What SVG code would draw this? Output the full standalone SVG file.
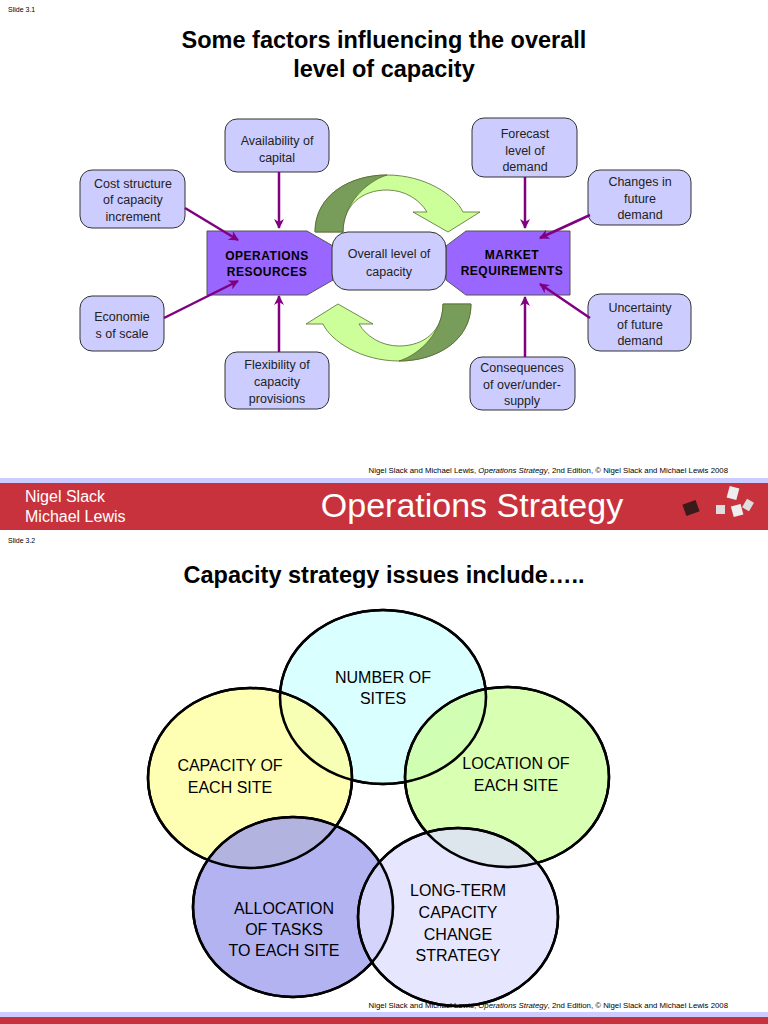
<svg xmlns="http://www.w3.org/2000/svg" width="768" height="1024" viewBox="0 0 768 1024">
<style>
text{font-family:"Liberation Sans",Arial,sans-serif;}
.t{font-size:23.5px;font-weight:bold;text-anchor:middle;fill:#000}
.sm{font-size:7px;fill:#000}
.box{fill:#ccccff;stroke:#333;stroke-width:1}
.bt{font-size:12.5px;text-anchor:middle;fill:#222}
.big{font-size:12px;font-weight:bold;text-anchor:middle;fill:#000;letter-spacing:0.5px}
.ar{stroke:#800080;stroke-width:2.5;fill:none;marker-end:url(#ah)}
.ct{font-size:16px;text-anchor:middle;fill:#000}
.c{stroke:#000;stroke-width:2.5;fill-opacity:0.75}
.foot{font-size:7.8px;text-anchor:end;fill:#000}
</style>
<defs>
<marker id="ah" viewBox="0 0 10 10" refX="9" refY="5" markerWidth="4" markerHeight="4" orient="auto"><path d="M0,0 L10,5 L0,10 L3,5 Z" fill="#800080"/></marker>
<g id="ga">
<path d="M315,232 C315,195 350,175 387,175 C425,175 455,195 463,212 L480,212 L448,232 L413,212 L427,212 C420,200 405,190 387,190 C362,190 343,205 343,232 Z" fill="#ccff99" stroke="#556b2f" stroke-width="0.8"/>
<path d="M315,232 C315,195 350,175 387,175 C365,182 343,205 343,232 Z" fill="#789d5a" stroke="#556b2f" stroke-width="0.8"/>
</g>
</defs>
<rect width="768" height="1024" fill="#fff"/>
<text x="8" y="12" class="sm">Slide 3.1</text>
<text x="384" y="48" class="t">Some factors influencing the overall</text>
<text x="384" y="77" class="t">level of capacity</text>

<g id="arrows-green">
<use href="#ga"/>
<use href="#ga" transform="rotate(180 389 262) translate(-8 -12)"/>
</g>

<g id="ops"><polygon points="207,231 307,231 333,246 333,280 307,295 207,295" fill="#9966ff" stroke="#555" stroke-width="1"/>
<text x="267" y="260" class="big">OPERATIONS</text><text x="267" y="276" class="big">RESOURCES</text></g>
<g id="market"><polygon points="466,231 570,231 570,295 466,295 446,280 446,246" fill="#9966ff" stroke="#555" stroke-width="1"/>
<text x="512" y="259" class="big">MARKET</text><text x="512" y="275" class="big">REQUIREMENTS</text></g>
<g id="center"><rect x="332" y="232" width="114" height="58" rx="16" class="box"/>
<text x="389" y="258" class="bt">Overall level of</text><text x="389" y="276" class="bt">capacity</text></g>

<g id="n1"><rect x="225" y="119" width="104" height="53" rx="12" class="box"/><text x="277" y="145" class="bt">Availability of</text><text x="277" y="162" class="bt">capital</text></g>
<g id="n2"><rect x="80" y="170" width="105" height="58" rx="12" class="box"/><text x="133" y="188" class="bt">Cost structure</text><text x="133" y="204" class="bt">of capacity</text><text x="133" y="221" class="bt">increment</text></g>
<g id="n3"><rect x="80" y="296" width="84" height="55" rx="12" class="box"/><text x="122" y="321" class="bt">Economie</text><text x="122" y="338" class="bt">s of scale</text></g>
<g id="n4"><rect x="225" y="352" width="104" height="57" rx="12" class="box"/><text x="277" y="369" class="bt">Flexibility of</text><text x="277" y="386" class="bt">capacity</text><text x="277" y="403" class="bt">provisions</text></g>
<g id="n5"><rect x="472" y="118" width="105" height="59" rx="12" class="box"/><text x="525" y="138" class="bt">Forecast</text><text x="525" y="155" class="bt">level of</text><text x="525" y="171" class="bt">demand</text></g>
<g id="n6"><rect x="588" y="170" width="103" height="55" rx="12" class="box"/><text x="640" y="186" class="bt">Changes in</text><text x="640" y="203" class="bt">future</text><text x="640" y="219" class="bt">demand</text></g>
<g id="n7"><rect x="588" y="294" width="103" height="57" rx="12" class="box"/><text x="640" y="312" class="bt">Uncertainty</text><text x="640" y="329" class="bt">of future</text><text x="640" y="345" class="bt">demand</text></g>
<g id="n8"><rect x="470" y="357" width="105" height="53" rx="12" class="box"/><text x="522" y="372" class="bt">Consequences</text><text x="522" y="389" class="bt">of over/under-</text><text x="522" y="405" class="bt">supply</text></g>

<g id="connectors">
<line x1="279" y1="172" x2="279" y2="228" class="ar"/>
<line x1="185" y1="208" x2="238" y2="240" class="ar"/>
<line x1="164" y1="318" x2="238" y2="281" class="ar"/>
<line x1="279" y1="352" x2="279" y2="296" class="ar"/>
<line x1="525" y1="177" x2="525" y2="228" class="ar"/>
<line x1="590" y1="215" x2="540" y2="238" class="ar"/>
<line x1="590" y1="318" x2="540" y2="284" class="ar"/>
<line x1="525" y1="357" x2="525" y2="297" class="ar"/>
</g>

<text x="728" y="473" class="foot">Nigel Slack and Michael Lewis, <tspan font-style="italic">Operations Strategy</tspan>, 2nd Edition, © Nigel Slack and Michael Lewis 2008</text>
<rect x="0" y="478" width="768" height="5" fill="#ccccff"/>
<rect x="0" y="483" width="768" height="47" fill="#c8323c"/>
<text x="25" y="502" font-size="16" fill="#fff">Nigel Slack</text>
<text x="25" y="522" font-size="16" fill="#fff">Michael Lewis</text>
<text x="472" y="517" font-size="34" fill="#fff" text-anchor="middle">Operations Strategy</text>
<g id="dice">
<rect x="684" y="502" width="14" height="12" fill="#3a1a1a" transform="rotate(-20 691 508)"/>
<rect x="728" y="487" width="10" height="12" fill="#eee" transform="rotate(15 733 493)"/>
<rect x="732" y="505" width="10" height="11" fill="#eee" transform="rotate(-15 737 510)"/>
<rect x="744" y="500" width="8" height="10" fill="#ddd" transform="rotate(30 748 505)"/>
<rect x="716" y="505" width="9" height="9" fill="#ddd"/>
</g>

<text x="8" y="543" class="sm">Slide 3.2</text>
<text x="384" y="583" class="t">Capacity strategy issues include…..</text>

<g id="circles">
<g id="c1"><ellipse cx="383" cy="697" rx="103" ry="87" fill="#ccffff" class="c"/></g>
<g id="c2"><ellipse cx="250" cy="778" rx="102" ry="90" fill="#ffff99" class="c"/></g>
<g id="c3"><ellipse cx="507" cy="777" rx="102" ry="90" fill="#ccff99" class="c"/></g>
<g id="c4"><ellipse cx="293" cy="907" rx="100" ry="90" fill="#9999ee" class="c"/></g>
<g id="c5"><ellipse cx="458" cy="917" rx="100" ry="89" fill="#ddddff" class="c"/></g>
<g fill="none" stroke="#000" stroke-width="2.5">
<ellipse cx="383" cy="697" rx="103" ry="87"/><ellipse cx="250" cy="778" rx="102" ry="90"/><ellipse cx="507" cy="777" rx="102" ry="90"/><ellipse cx="293" cy="907" rx="100" ry="90"/><ellipse cx="458" cy="917" rx="100" ry="89"/>
</g>
</g>
<text x="383" y="683" class="ct">NUMBER OF</text><text x="383" y="704" class="ct">SITES</text>
<text x="230" y="771" class="ct">CAPACITY OF</text><text x="230" y="793" class="ct">EACH SITE</text>
<text x="516" y="769" class="ct">LOCATION OF</text><text x="516" y="791" class="ct">EACH SITE</text>
<text x="284" y="914" class="ct">ALLOCATION</text><text x="284" y="935" class="ct">OF TASKS</text><text x="284" y="956" class="ct">TO EACH SITE</text>
<text x="458" y="896" class="ct">LONG-TERM</text><text x="458" y="918" class="ct">CAPACITY</text><text x="458" y="940" class="ct">CHANGE</text><text x="458" y="961" class="ct">STRATEGY</text>

<text x="728" y="1008" class="foot">Nigel Slack and Michael Lewis, <tspan font-style="italic">Operations Strategy</tspan>, 2nd Edition, © Nigel Slack and Michael Lewis 2008</text>
<rect x="0" y="1012" width="768" height="5" fill="#ccccff"/>
<rect x="0" y="1017" width="768" height="7" fill="#c8323c"/>
</svg>
